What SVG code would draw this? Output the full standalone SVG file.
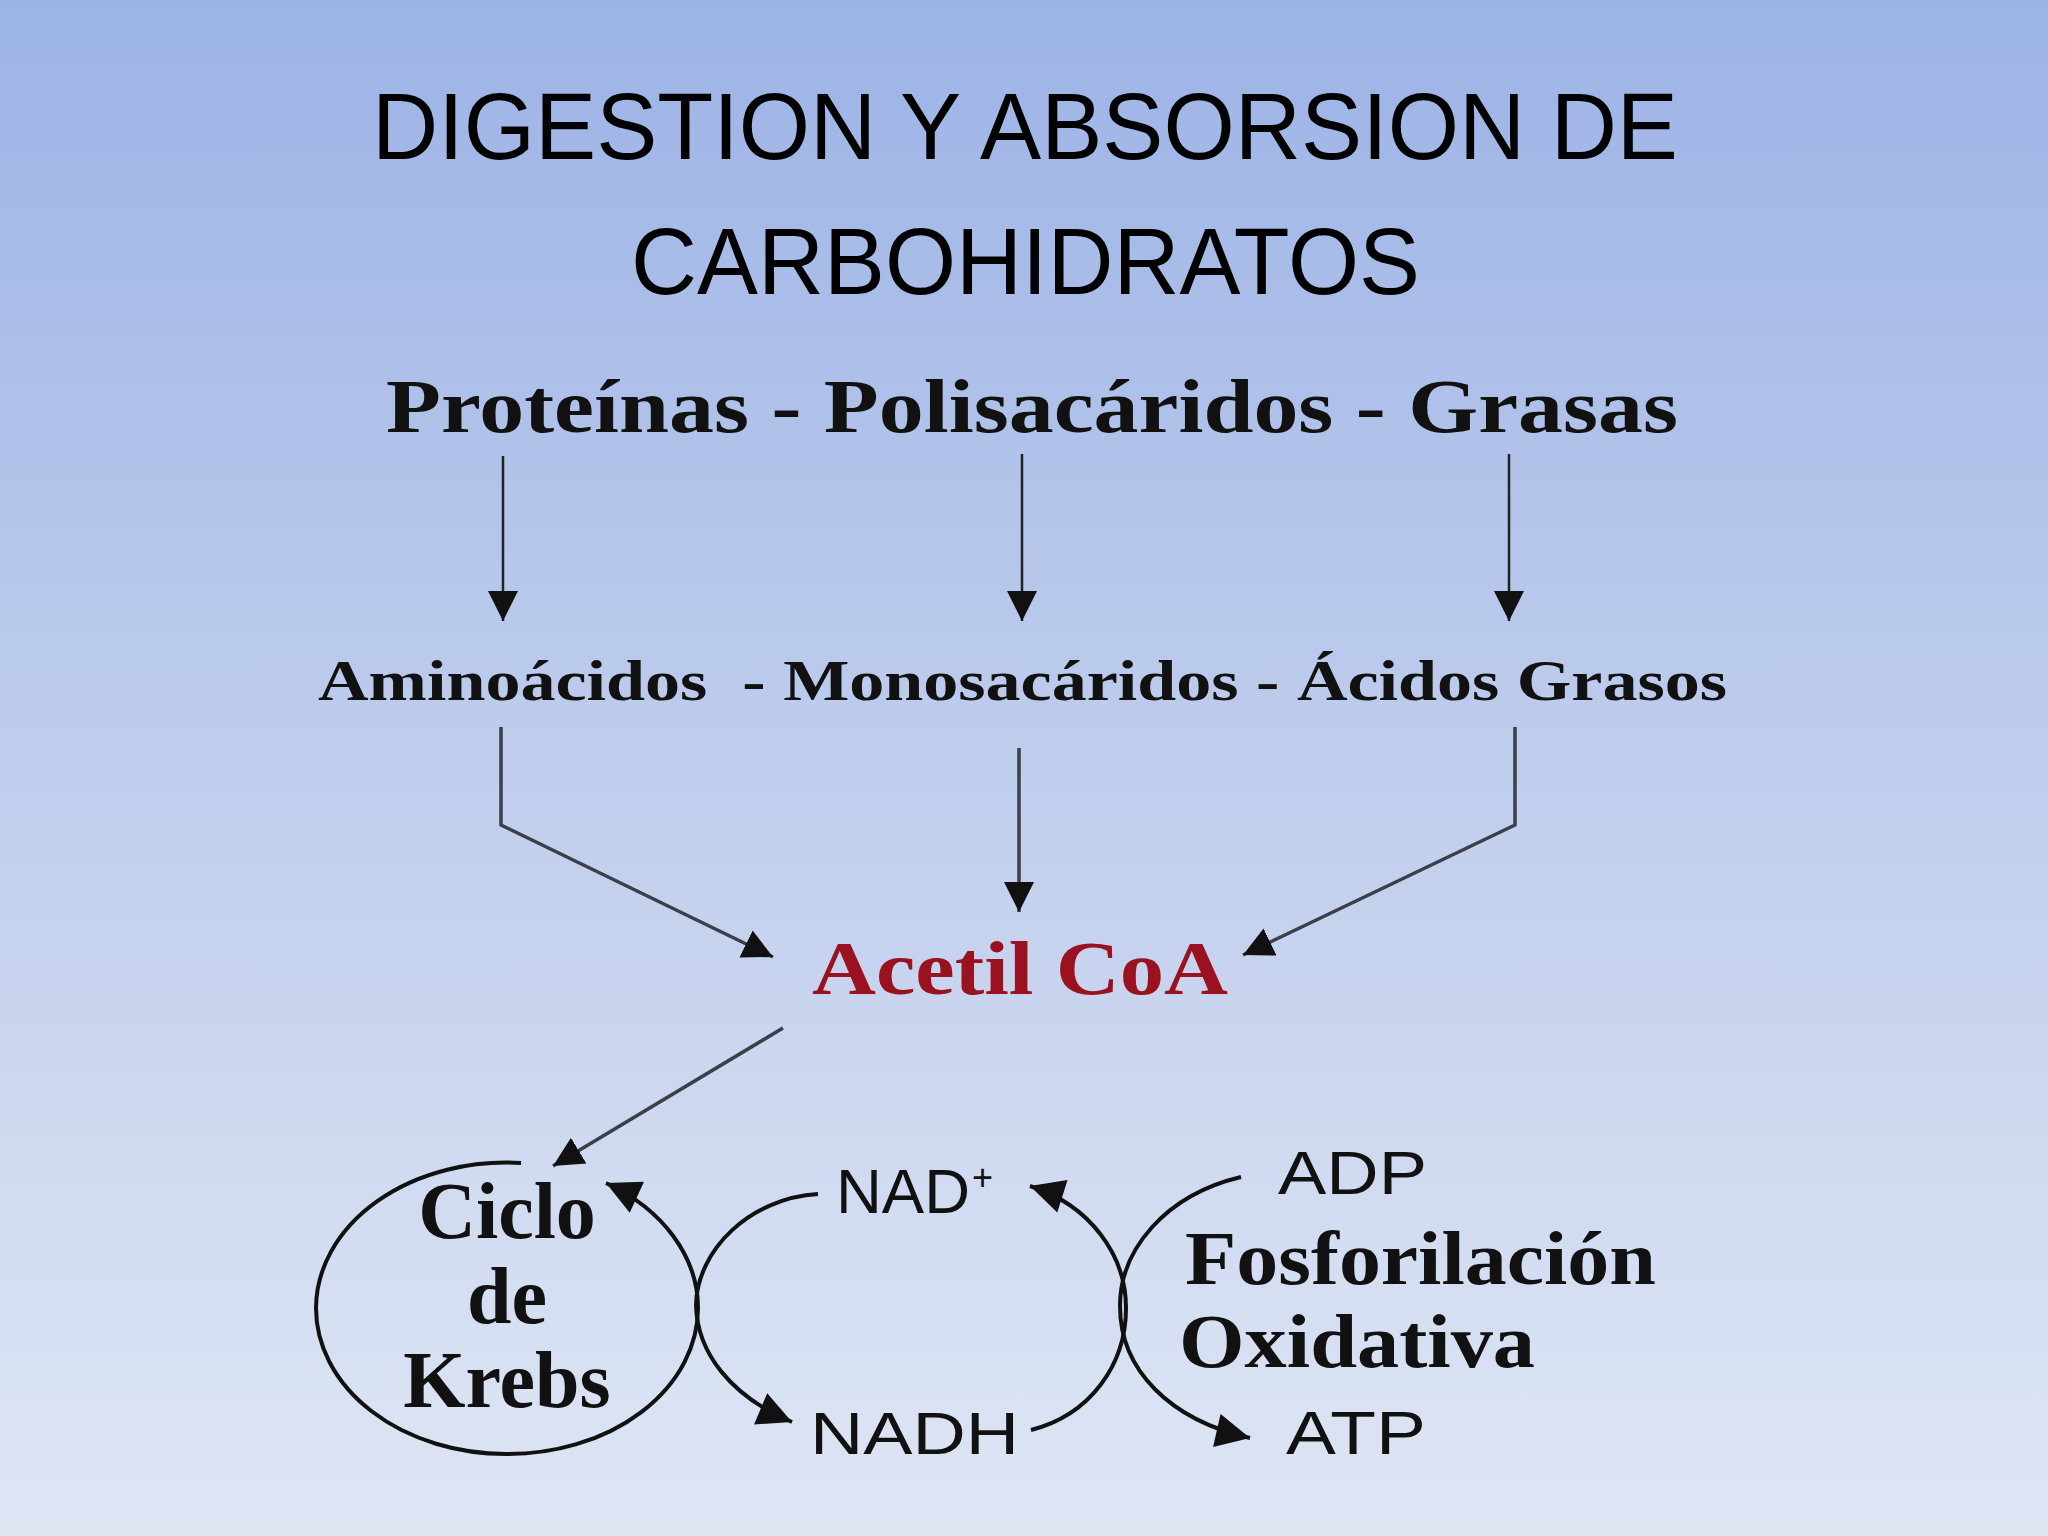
<svg xmlns="http://www.w3.org/2000/svg" width="2048" height="1536" viewBox="0 0 2048 1536">
<defs>
<linearGradient id="bg" x1="0" y1="0" x2="0" y2="1">
<stop offset="0" stop-color="#9cb3e6"/>
<stop offset="0.45" stop-color="#bccbec"/>
<stop offset="1" stop-color="#dfe6f4"/>
</linearGradient>
<marker id="ah" viewBox="0 0 10 10" refX="10" refY="5" markerUnits="userSpaceOnUse" markerWidth="30" markerHeight="38" orient="auto">
<path d="M0,0 L10,5 L0,10 z" fill="#111"/>
</marker>
<marker id="ah2" viewBox="0 0 10 10" refX="10" refY="5" markerUnits="userSpaceOnUse" markerWidth="36" markerHeight="34" orient="auto">
<path d="M0,0 L10,5 L0,10 z" fill="#111"/>
</marker>
<style>
.title{font-family:"Liberation Sans","Open Sans",sans-serif;font-size:95px;fill:#000}
.ser{font-family:"Liberation Serif","DejaVu Serif",serif;font-weight:bold;fill:#111}
.san{font-family:"Liberation Sans",Arial,sans-serif;fill:#111}
.thin{fill:none;stroke:#222;stroke-width:2.5}
.mid{fill:none;stroke:#3a3f48;stroke-width:3.5}
.cyc{fill:none;stroke:#111;stroke-width:4}
</style>
</defs>
<rect width="2048" height="1536" fill="url(#bg)"/>

<g id="title">
<text class="title" x="372" y="159" textLength="1306" lengthAdjust="spacingAndGlyphs">DIGESTION Y ABSORSION DE</text>
<text class="title" x="631" y="294" textLength="789" lengthAdjust="spacingAndGlyphs">CARBOHIDRATOS</text>
</g>

<g id="row1">
<text class="ser" x="386" y="432" font-size="76" textLength="1292" lengthAdjust="spacingAndGlyphs">Proteínas - Polisacáridos - Grasas</text>
</g>

<g id="row2">
<text class="ser" x="318" y="700" font-size="57" textLength="1409" lengthAdjust="spacingAndGlyphs" xml:space="preserve">Aminoácidos  - Monosacáridos - Ácidos Grasos</text>
</g>

<g id="acetil">
<text class="ser" x="812" y="994" font-size="76" style="fill:#9a1220" textLength="416" lengthAdjust="spacingAndGlyphs">Acetil CoA</text>
</g>

<g id="krebs">
<text class="ser" x="507" y="1238" font-size="80" text-anchor="middle">Ciclo</text>
<text class="ser" x="507" y="1323" font-size="80" text-anchor="middle">de</text>
<text class="ser" x="507" y="1407" font-size="80" text-anchor="middle">Krebs</text>
</g>

<g id="nad">
<text class="san" x="836" y="1213" font-size="63" textLength="134" lengthAdjust="spacingAndGlyphs">NAD</text>
<text class="san" x="972" y="1190" font-size="36">+</text>
</g>
<g id="nadh">
<text class="san" x="810" y="1454" font-size="60" textLength="209" lengthAdjust="spacingAndGlyphs">NADH</text>
</g>
<g id="adp">
<text class="san" x="1278" y="1194" font-size="62" textLength="149" lengthAdjust="spacingAndGlyphs">ADP</text>
</g>
<g id="atp">
<text class="san" x="1286" y="1454" font-size="62" textLength="140" lengthAdjust="spacingAndGlyphs">ATP</text>
</g>
<g id="fosfo">
<text class="ser" x="1185" y="1284" font-size="76" textLength="471" lengthAdjust="spacingAndGlyphs">Fosforilación</text>
<text class="ser" x="1179" y="1367" font-size="76" textLength="356" lengthAdjust="spacingAndGlyphs">Oxidativa</text>
</g>

<g id="connectors">
<path class="thin" d="M503 456 L503 621" marker-end="url(#ah)"/>
<path class="thin" d="M1022 454 L1022 621" marker-end="url(#ah)"/>
<path class="thin" d="M1509 454 L1509 621" marker-end="url(#ah)"/>
<path class="mid" d="M501 727 L501 825 L773 957" marker-end="url(#ah)"/>
<path class="mid" d="M1019 748 L1019 912" marker-end="url(#ah)"/>
<path class="mid" d="M1515 727 L1515 825 L1243 955" marker-end="url(#ah)"/>
<path class="mid" d="M783 1028 L553 1166" marker-end="url(#ah)"/>
<path class="cyc" d="M521 1163 A190 146 0 0 0 316 1308 A190 146 0 0 0 506 1454 A190 146 0 0 0 698 1308 A190 146 0 0 0 606 1183" marker-end="url(#ah2)"/>
<path class="cyc" d="M818 1194 C750 1198 697 1250 696 1305 C697 1352 730 1396 792 1422" marker-end="url(#ah2)"/>
<path class="cyc" d="M1031 1430 C1090 1415 1126 1365 1126 1308 C1126 1255 1090 1205 1030 1186" marker-end="url(#ah2)"/>
<path class="cyc" d="M1241 1177 C1165 1195 1120 1250 1120 1306 C1120 1370 1170 1420 1250 1438" marker-end="url(#ah2)"/>
</g>
</svg>
